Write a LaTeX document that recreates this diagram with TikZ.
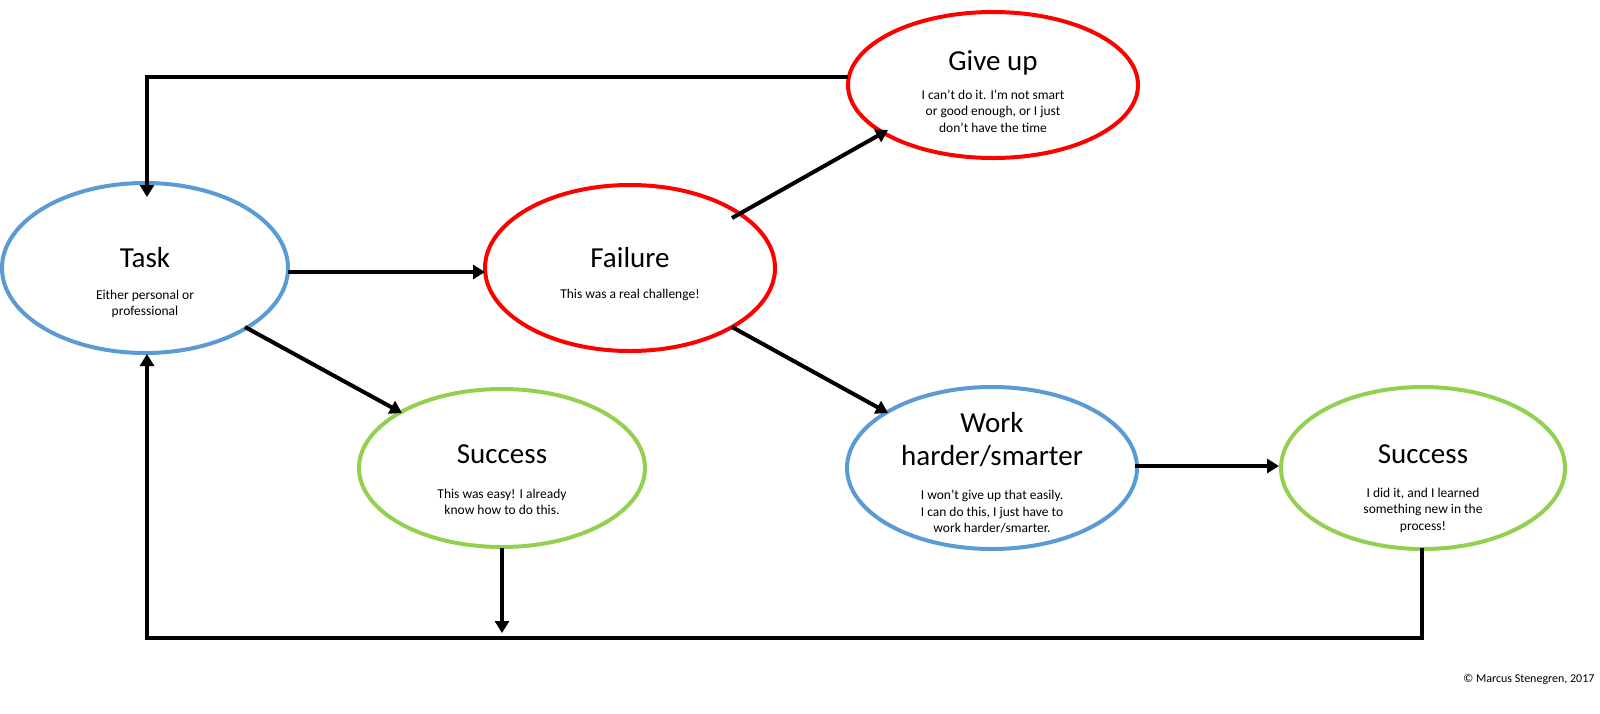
\documentclass[tikz,border=0pt]{standalone}
\usepackage{fontspec}
\setmainfont{Carlito}
\usetikzlibrary{arrows.meta}
\definecolor{eblue}{RGB}{91,155,213}
\definecolor{ered}{RGB}{255,0,0}
\definecolor{egreen}{RGB}{146,208,80}
\begin{document}
\begin{tikzpicture}[x=1pt,y=-1pt,
  conn/.style={line width=4pt,-{Triangle[length=12pt,width=14pt]}},
  ttl/.style={font=\fontsize{29}{31}\selectfont},
  sub/.style={font=\fontsize{13.5}{16.5}\selectfont,align=center}]
\draw[eblue,line width=4pt] (145,268) ellipse [x radius=143,y radius=85];
\draw[ered,line width=4pt] (630,268) ellipse [x radius=145,y radius=83];
\draw[ered,line width=4pt] (993,85) ellipse [x radius=145,y radius=73];
\draw[egreen,line width=4pt] (502,468) ellipse [x radius=143,y radius=79];
\draw[eblue,line width=4pt] (992,468) ellipse [x radius=145,y radius=81];
\draw[egreen,line width=4pt] (1423,468) ellipse [x radius=142,y radius=81];
\node[ttl] (t1) at (145,258) {Task};
\node[sub] (s1) at (145,304) {Either personal or\\professional};
\node[ttl] (t2) at (630,258) {Failure};
\node[sub] (s2) at (630,295) {This was a real challenge!};
\node[ttl] (t3) at (993,63) {Give up};
\node[sub] (s3) at (993,111) {I can’t do it. I’m not smart\\or good enough, or I just\\don’t have the time};
\node[ttl] (t4) at (502,454) {Success};
\node[sub] (s4) at (502,502) {This was easy! I already\\know how to do this.};
\node[ttl,align=center,font=\fontsize{29}{33}\selectfont] (t5) at (992,440) {Work\\harder/smarter};
\node[sub] (s5) at (992,512) {I won’t give up that easily.\\I can do this, I just have to\\work harder/smarter.};
\node[ttl] (t6) at (1423,454) {Success};
\node[sub] (s6) at (1423,510) {I did it, and I learned\\something new in the\\process!};
\node[font=\fontsize{12}{14}\selectfont,anchor=east] (cp) at (1598,679) {© Marcus Stenegren, 2017};
\coordinate (a1) at (288,272); \coordinate (a2) at (485,272);
\draw[conn] (a1) -- (a2);
\coordinate (b1) at (245,327); \coordinate (b2) at (402,413);
\draw[conn] (b1) -- (b2);
\coordinate (c1) at (732,218); \coordinate (c2) at (888,130);
\draw[conn] (c1) -- (c2);
\coordinate (d1) at (732,327); \coordinate (d2) at (888,413);
\draw[conn] (d1) -- (d2);
\coordinate (e1) at (1135,466); \coordinate (e2) at (1279,466);
\draw[conn] (e1) -- (e2);
\coordinate (f1) at (848,77); \coordinate (f2) at (147,77); \coordinate (f3) at (147,197);
\draw[conn] (f1) -- (f2) -- (f3);
\coordinate (g1) at (502,548); \coordinate (g2) at (502,633);
\draw[conn] (g1) -- (g2);
\coordinate (h1) at (1422,548); \coordinate (h2) at (1422,638); \coordinate (h3) at (147,638); \coordinate (h4) at (147,354);
\draw[conn] (h1) -- (h2) -- (h3) -- (h4);
\pgfresetboundingbox
\useasboundingbox (0,0) rectangle (1600,713);
\end{tikzpicture}
\end{document}
